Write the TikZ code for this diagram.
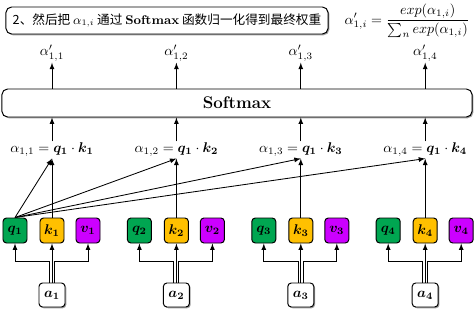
\documentclass[tikz,border=0pt]{standalone}
\usepackage{fontspec}
\newfontfamily\cjk{Noto Sans CJK SC}
\usepackage{amsmath}
\usepackage{bm}
\usepackage{xcolor}
\usetikzlibrary{arrows}
\usetikzlibrary{math, calc, shadows}
\definecolor{qgreen}{HTML}{00A651}
\definecolor{kyellow}{HTML}{FFC000}
\definecolor{vpurple}{HTML}{CC00FF}

\tikzset{
shadowed/.style={drop shadow={shadow xshift=0.9pt, shadow yshift=-0.9pt, fill=gray!75, opacity=1}},
vecbox/.style={draw, line width=0.7pt, rounded corners=2.5pt, minimum width=0.6cm, minimum height=0.625cm, inner sep=0pt},
inbox/.style={vecbox, fill=white, minimum width=0.65cm, minimum height=0.6cm, shadowed},
widebox/.style={draw, fill=white, line width=0.7pt, rounded corners=4pt, inner sep=0pt, shadowed},
}

\begin{document}
\begin{tikzpicture}[x=0.025cm, y=-0.025cm]
\tikzmath{
\dx=124.4;
\yb=230.5;
}
\useasboundingbox (0,0) rectangle (474,310);

% title and formula
\node[widebox, minimum width=8.05cm, minimum height=0.675cm, font=\cjk\fontsize{9}{11}\selectfont] (title) at (167,20.5)
{2、然后把 $\alpha_{1,i}$ 通过 {\rmfamily\bfseries Softmax} 函数归一化得到最终权重};
\node (frac) at (407,21) {$\alpha'_{1,i}=\dfrac{exp(\alpha_{1,i})}{\sum_n exp(\alpha_{1,i})}$};

\node[widebox, minimum width=11.75cm, minimum height=0.7cm, font=\large\bfseries] (sm) at (237,103) {Softmax};

\foreach \i in {1,...,4}{
\pgfmathsetmacro{\cx}{52+\dx*(\i-1)}
\node[vecbox, fill=qgreen] (q\i) at (\cx-37,\yb) {$\bm{q_{\i}}$};
\node[vecbox, fill=kyellow] (k\i) at (\cx,\yb) {$\bm{k_{\i}}$};
\node[vecbox, fill=vpurple] (v\i) at (\cx+36,\yb) {$\bm{v_{\i}}$};
\node[inbox] (a\i) at (\cx,295) {$\bm{a_{\i}}$};
\node[inner sep=1pt] (al\i) at (\cx,150) {$\alpha_{1,\i}=\bm{q_1}\cdot\bm{k_{\i}}$};
\node[inner sep=1pt] (ap\i) at (\cx,53) {$\alpha'_{1,\i}$};
}

\begin{scope}[line width=0.6pt]
\foreach \i in {1,...,4}{
\draw[-latex] ($(a\i.north)+(-2.5,0)$) -- ++(0,-21) -| (q\i.south);
\draw[-latex] (a\i.north) -- (k\i.south);
\draw[-latex] ($(a\i.north)+(2.5,0)$) -- ++(0,-21) -| (v\i.south);
\draw[-latex] (k\i.north) -- (al\i.south);
\draw[-latex] (q1.north) -- (al\i.south);
\draw[-latex] (al\i.north) -- (al\i.north |- sm.south);
\draw[-latex] (sm.north -| ap\i.south) -- (ap\i.south);
}
\end{scope}

\end{tikzpicture}
\end{document}
